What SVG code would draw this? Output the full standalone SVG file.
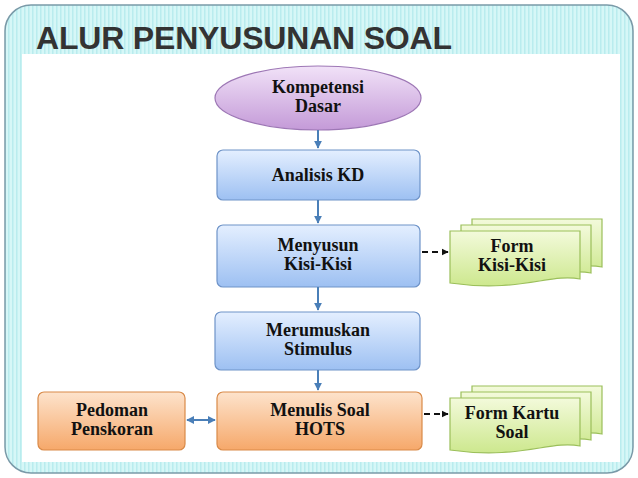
<svg xmlns="http://www.w3.org/2000/svg" width="638" height="478" viewBox="0 0 638 478">
<defs>
<pattern id="stripe" width="4" height="4" patternUnits="userSpaceOnUse"><rect width="4" height="4" fill="#d6f7f7"/><rect width="1.5" height="4" fill="#b9ecee"/></pattern>
<linearGradient id="gp" x1="0" y1="0" x2="0" y2="1"><stop offset="0" stop-color="#f1e2f8"/><stop offset="1" stop-color="#c49ad8"/></linearGradient>
<linearGradient id="gb" x1="0" y1="0" x2="0" y2="1"><stop offset="0" stop-color="#e4efff"/><stop offset="1" stop-color="#9dc0f2"/></linearGradient>
<linearGradient id="go" x1="0" y1="0" x2="0" y2="1"><stop offset="0" stop-color="#fde3cc"/><stop offset="1" stop-color="#f6a86a"/></linearGradient>
<linearGradient id="gg" x1="0" y1="0" x2="0" y2="1"><stop offset="0" stop-color="#f3fadb"/><stop offset="1" stop-color="#cde88e"/></linearGradient>
<marker id="ab" viewBox="0 0 10 10" refX="9" refY="5" markerWidth="4" markerHeight="4" orient="auto-start-reverse"><path d="M0,0L10,5L0,10z" fill="#4a7fb8"/></marker>
<marker id="ak" viewBox="0 0 10 10" refX="9" refY="5" markerWidth="4" markerHeight="4" orient="auto"><path d="M0,0L10,5L0,10z" fill="#111"/></marker>
<g id="doc"><path d="M0,0H130V48C100,42 70,62 0,52Z"/></g>
</defs>
<style>
text{font-family:"Liberation Serif","DejaVu Serif",serif;font-weight:bold;font-size:18px;fill:#111;text-anchor:middle}
.b{fill:url(#gb);stroke:#6e93c8;stroke-width:1.2}
.o{fill:url(#go);stroke:#d98a48;stroke-width:1.2}
.g use{fill:url(#gg);stroke:#9bbf5a;stroke-width:1.2}
.c line{stroke:#4a7fb8;stroke-width:2}
.d line{stroke:#111;stroke-width:1.8;stroke-dasharray:6 4}
</style>
<rect x="5" y="5" width="628" height="468" rx="26" fill="url(#stripe)" stroke="#7a9aa8" stroke-width="1.5"/>
<rect x="22" y="54" width="598" height="408" fill="#fff"/>
<text x="36" y="49" textLength="416" style="font-family:'Liberation Sans',Arial,sans-serif;font-size:32px;fill:#333;text-anchor:start">ALUR PENYUSUNAN SOAL</text>
<g id="n1"><ellipse cx="318" cy="98" rx="103" ry="32" fill="url(#gp)" stroke="#9d77b5" stroke-width="1.2"/><text x="318" y="93">Kompetensi</text><text x="318" y="112">Dasar</text></g>
<g id="n2"><rect class="b" x="217" y="150" width="203" height="50" rx="6"/><text x="318" y="181">Analisis KD</text></g>
<g id="n3"><rect class="b" x="217" y="225" width="203" height="62" rx="6"/><text x="318" y="251">Menyusun</text><text x="318" y="270">Kisi-Kisi</text></g>
<g id="n4"><rect class="b" x="215" y="312" width="205" height="58" rx="6"/><text x="318" y="336">Merumuskan</text><text x="318" y="355">Stimulus</text></g>
<g id="n5"><rect class="o" x="217" y="392" width="205" height="58" rx="6"/><text x="320" y="416">Menulis Soal</text><text x="320" y="435">HOTS</text></g>
<g id="n6"><rect class="o" x="38" y="392" width="147" height="58" rx="6"/><text x="112" y="416">Pedoman</text><text x="112" y="435">Penskoran</text></g>
<g id="n7" class="g"><use href="#doc" x="472" y="219"/><use href="#doc" x="461" y="225"/><use href="#doc" x="450" y="231"/><text x="512" y="252">Form</text><text x="512" y="271">Kisi-Kisi</text></g>
<g id="n8" class="g"><use href="#doc" x="472" y="386"/><use href="#doc" x="461" y="392"/><use href="#doc" x="450" y="398"/><text x="512" y="419">Form Kartu</text><text x="512" y="438">Soal</text></g>
<g id="connectors">
<g class="c">
<line x1="318" y1="130" x2="318" y2="148" marker-end="url(#ab)"/>
<line x1="318" y1="200" x2="318" y2="223" marker-end="url(#ab)"/>
<line x1="318" y1="287" x2="318" y2="310" marker-end="url(#ab)"/>
<line x1="318" y1="370" x2="318" y2="390" marker-end="url(#ab)"/>
<line x1="187" y1="420" x2="215" y2="420" marker-start="url(#ab)" marker-end="url(#ab)"/>
</g>
<g class="d">
<line x1="422" y1="252" x2="448" y2="252" marker-end="url(#ak)"/>
<line x1="424" y1="414" x2="448" y2="414" marker-end="url(#ak)"/>
</g>
</g>
</svg>
